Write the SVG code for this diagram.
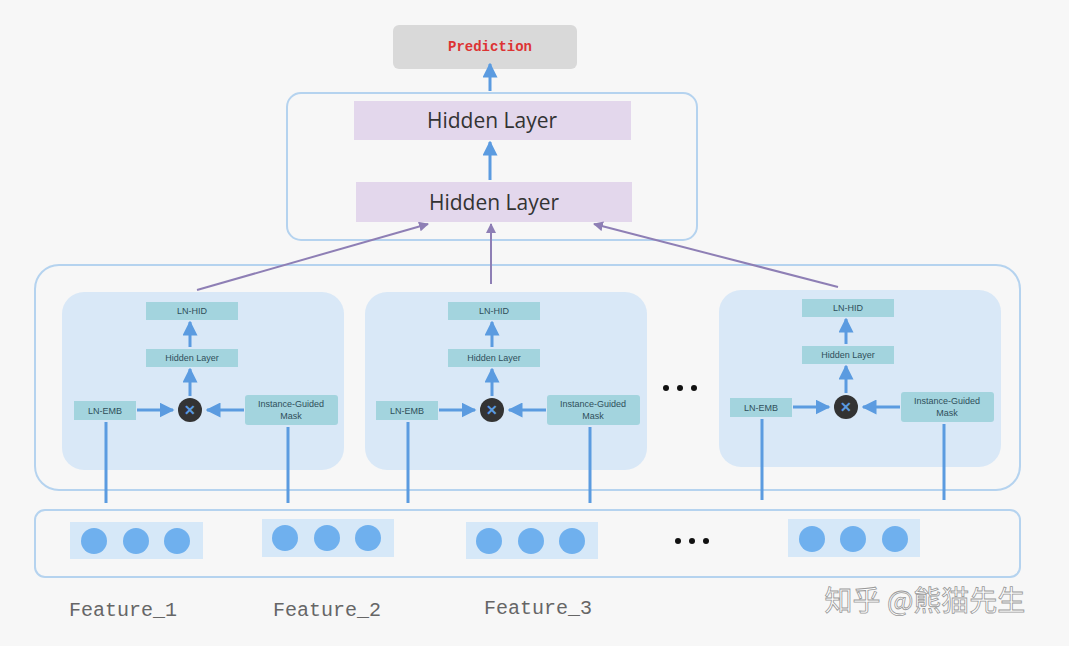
<svg xmlns="http://www.w3.org/2000/svg" width="1069" height="646" viewBox="0 0 1069 646">
<defs>
<marker id="a" viewBox="0 0 10 10" refX="9" refY="5" markerWidth="5" markerHeight="5" orient="auto"><path d="M0,0L10,5L0,10z" fill="#5b9be0"/></marker>
<marker id="p" viewBox="0 0 10 10" refX="9" refY="5" markerWidth="5" markerHeight="5" orient="auto"><path d="M0,0L10,5L0,10z" fill="#8e7fb5"/></marker>
</defs>
<style>
.cont{fill:none;stroke:#b5d3ef;stroke-width:2}
.panel{fill:#d9e8f7}
.sm{fill:#a3d4de}
.st{font-family:"Liberation Sans",sans-serif;font-size:9px;fill:#2f4f5a;text-anchor:middle}
.hl{fill:#e3d7ec}
.ht{font-family:"Open Sans","Liberation Sans",sans-serif;font-size:21px;fill:#333;text-anchor:middle}
.b{stroke:#5b9be0;stroke-width:3;fill:none}
.bp{stroke:#8e7fb5;stroke-width:2;fill:none}
.dot{fill:#6fb0ee}
.fb{fill:#d6e8f8}
.ft{font-family:"Liberation Mono",monospace;font-size:20px;fill:#666;text-anchor:middle}
</style>
<rect width="1069" height="646" fill="#f7f7f7"/>
<g id="prediction"><rect x="393" y="25" width="184" height="44" rx="6" fill="#d9d9d9"/><text x="490" y="51" font-family="Liberation Mono,monospace" font-size="14" font-weight="bold" fill="#d33" text-anchor="middle">Prediction</text></g>
<g id="top"><rect class="cont" x="287" y="93" width="410" height="147" rx="14"/>
<rect class="hl" x="354" y="101" width="277" height="39"/><text class="ht" x="492" y="128">Hidden Layer</text>
<rect class="hl" x="356" y="182" width="276" height="40"/><text class="ht" x="494" y="210">Hidden Layer</text></g>
<g id="middle"><rect class="cont" x="35" y="265" width="985" height="225" rx="24"/></g>
<g id="bottom"><rect class="cont" x="35" y="510" width="985" height="67" rx="10"/></g>
<g id="panel1" transform="translate(0,0)">
<rect class="panel" x="62" y="292" width="282" height="178" rx="22"/>
<rect class="sm" x="146" y="302" width="92" height="18"/><text class="st" x="192" y="314">LN-HID</text>
<rect class="sm" x="146" y="349" width="92" height="18"/><text class="st" x="192" y="361">Hidden Layer</text>
<rect class="sm" x="74" y="401" width="62" height="19"/><text class="st" x="105" y="414">LN-EMB</text>
<rect class="sm" x="245" y="395" width="93" height="30" rx="3"/><text class="st" x="291" y="407">Instance-Guided</text><text class="st" x="291" y="419">Mask</text>
<circle cx="190" cy="410" r="12" fill="#333"/><text x="190" y="415" font-family="Liberation Sans,sans-serif" font-size="14" font-weight="bold" fill="#5b9be0" text-anchor="middle">✕</text>
</g>
<g id="panel2" transform="translate(302,0)">
<rect class="panel" x="63" y="292" width="282" height="178" rx="22"/>
<rect class="sm" x="146" y="302" width="92" height="18"/><text class="st" x="192" y="314">LN-HID</text>
<rect class="sm" x="146" y="349" width="92" height="18"/><text class="st" x="192" y="361">Hidden Layer</text>
<rect class="sm" x="74" y="401" width="62" height="19"/><text class="st" x="105" y="414">LN-EMB</text>
<rect class="sm" x="245" y="395" width="93" height="30" rx="3"/><text class="st" x="291" y="407">Instance-Guided</text><text class="st" x="291" y="419">Mask</text>
<circle cx="190" cy="410" r="12" fill="#333"/><text x="190" y="415" font-family="Liberation Sans,sans-serif" font-size="14" font-weight="bold" fill="#5b9be0" text-anchor="middle">✕</text>
</g>
<g id="panel3" transform="translate(656,-3)">
<rect class="panel" x="63" y="293" width="282" height="177" rx="22"/>
<rect class="sm" x="146" y="302" width="92" height="18"/><text class="st" x="192" y="314">LN-HID</text>
<rect class="sm" x="146" y="349" width="92" height="18"/><text class="st" x="192" y="361">Hidden Layer</text>
<rect class="sm" x="74" y="401" width="62" height="19"/><text class="st" x="105" y="414">LN-EMB</text>
<rect class="sm" x="245" y="395" width="93" height="30" rx="3"/><text class="st" x="291" y="407">Instance-Guided</text><text class="st" x="291" y="419">Mask</text>
<circle cx="190" cy="410" r="12" fill="#333"/><text x="190" y="415" font-family="Liberation Sans,sans-serif" font-size="14" font-weight="bold" fill="#5b9be0" text-anchor="middle">✕</text>
</g>
<g id="features">
<rect class="fb" x="70" y="522" width="133" height="37"/><circle class="dot" cx="94" cy="541" r="13"/><circle class="dot" cx="136" cy="541" r="13"/><circle class="dot" cx="177" cy="541" r="13"/>
<rect class="fb" x="262" y="519" width="132" height="38"/><circle class="dot" cx="285" cy="538" r="13"/><circle class="dot" cx="327" cy="538" r="13"/><circle class="dot" cx="368" cy="538" r="13"/>
<rect class="fb" x="466" y="522" width="132" height="37"/><circle class="dot" cx="489" cy="541" r="13"/><circle class="dot" cx="531" cy="541" r="13"/><circle class="dot" cx="572" cy="541" r="13"/>
<rect class="fb" x="788" y="519" width="132" height="38"/><circle class="dot" cx="812" cy="539" r="13"/><circle class="dot" cx="853" cy="539" r="13"/><circle class="dot" cx="895" cy="539" r="13"/>
<text class="ft" x="123" y="616">Feature_1</text><text class="ft" x="327" y="616">Feature_2</text><text class="ft" x="538" y="614">Feature_3</text>
</g>
<g id="dots" fill="#111"><circle cx="666" cy="388" r="3"/><circle cx="680" cy="388" r="3"/><circle cx="694" cy="388" r="3"/><circle cx="678" cy="541" r="3"/><circle cx="692" cy="541" r="3"/><circle cx="706" cy="541" r="3"/></g>
<g id="connectors">
<path class="b" d="M490 91V64" marker-end="url(#a)"/>
<path class="b" d="M490 180V142" marker-end="url(#a)"/>
<path class="bp" d="M197 290L428 224" marker-end="url(#p)"/>
<path class="bp" d="M491 284V224" marker-end="url(#p)"/>
<path class="bp" d="M838 287L594 224" marker-end="url(#p)"/>
<g id="c1"><path class="b" d="M106 503V422M288 503V427"/><path class="b" d="M137 410H173" marker-end="url(#a)"/><path class="b" d="M244 410H207" marker-end="url(#a)"/><path class="b" d="M190 396V369" marker-end="url(#a)"/><path class="b" d="M190 347V322" marker-end="url(#a)"/></g>
<g transform="translate(302,0)"><path class="b" d="M106 503V422M288 503V427"/><path class="b" d="M137 410H173" marker-end="url(#a)"/><path class="b" d="M244 410H207" marker-end="url(#a)"/><path class="b" d="M190 396V369" marker-end="url(#a)"/><path class="b" d="M190 347V322" marker-end="url(#a)"/></g>
<g transform="translate(656,-3)"><path class="b" d="M106 503V422M288 503V427"/><path class="b" d="M137 410H173" marker-end="url(#a)"/><path class="b" d="M244 410H207" marker-end="url(#a)"/><path class="b" d="M190 396V369" marker-end="url(#a)"/><path class="b" d="M190 347V322" marker-end="url(#a)"/></g>
</g>
<text x="925" y="611" font-family="Noto Sans CJK SC,sans-serif" font-size="28" fill="#fff" stroke="#999" stroke-width="0.8" text-anchor="middle">知乎 @熊猫先生</text>
</svg>
